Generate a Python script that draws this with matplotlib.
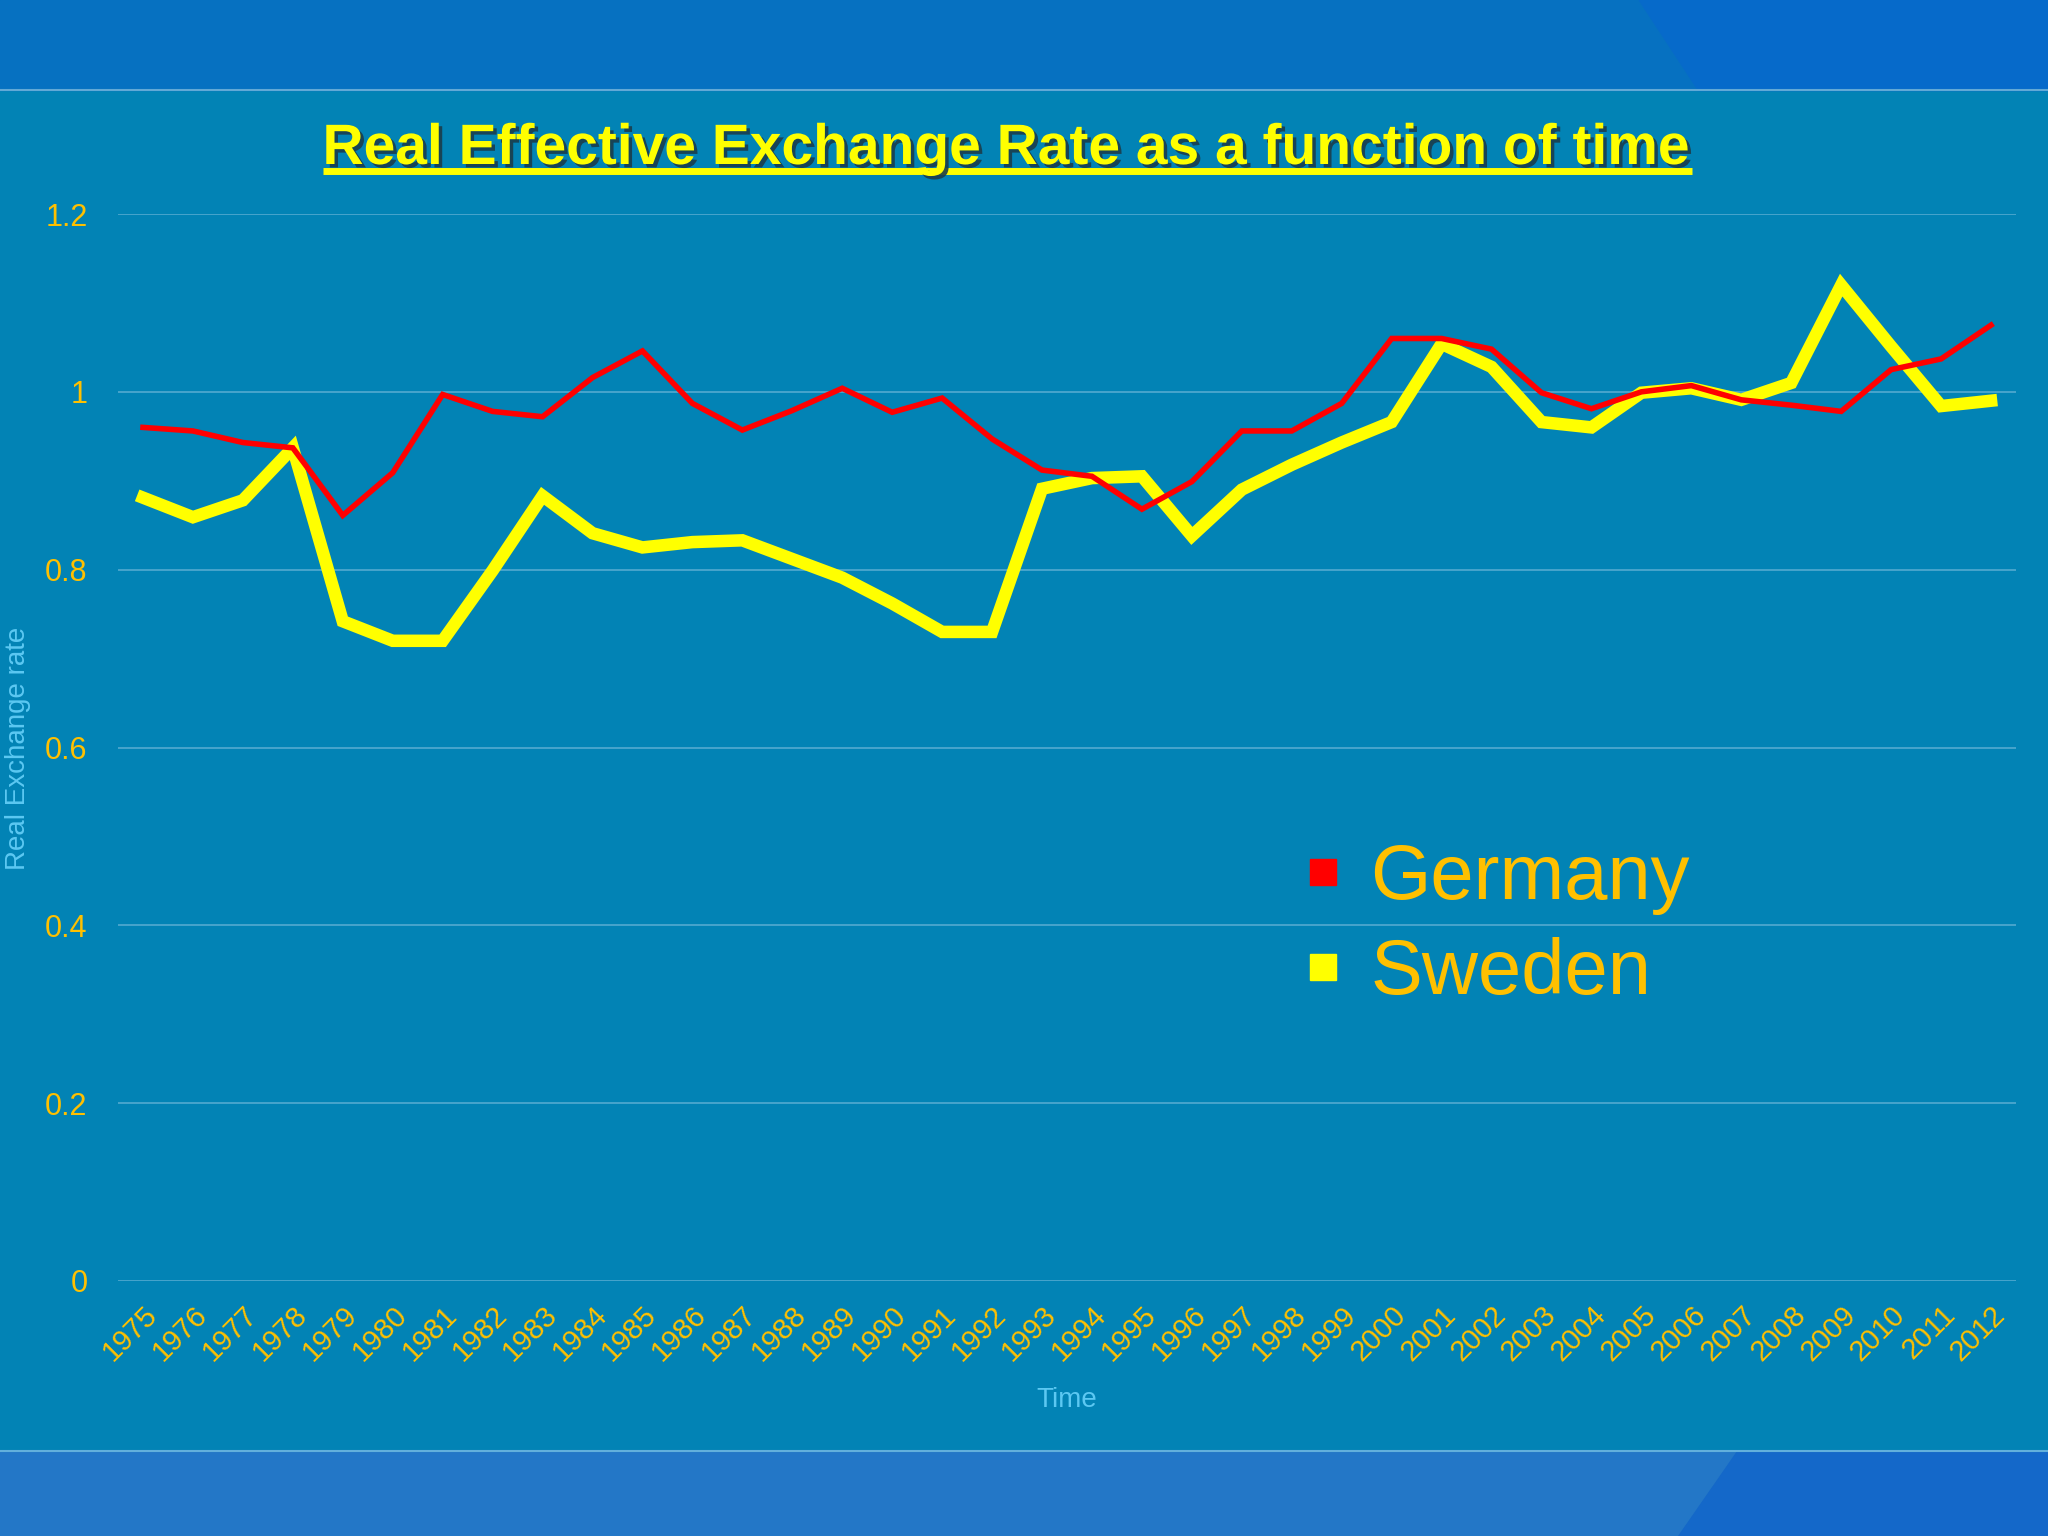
import matplotlib.pyplot as plt
import matplotlib.patheffects as pe
from matplotlib.patches import Rectangle, Polygon
from matplotlib.lines import Line2D

plt.rcParams['font.family'] = ['Liberation Sans', 'DejaVu Sans']

years = [str(y) for y in range(1975, 2013)]

germany = [0.960, 0.956, 0.943, 0.937, 0.861, 0.909, 0.997, 0.978, 0.972, 1.016,
           1.046, 0.987, 0.957, 0.979, 1.004, 0.977, 0.993, 0.947, 0.912, 0.905,
           0.868, 0.899, 0.956, 0.956, 0.987, 1.060, 1.060, 1.048, 0.999, 0.981,
           1.000, 1.007, 0.991, 0.985, 0.978, 1.025, 1.037, 1.075]

sweden = [0.881, 0.859, 0.878, 0.937, 0.742, 0.720, 0.720, 0.799, 0.883, 0.841,
          0.825, 0.831, 0.833, 0.812, 0.791, 0.762, 0.730, 0.730, 0.891, 0.903,
          0.905, 0.838, 0.890, 0.918, 0.943, 0.966, 1.054, 1.028, 0.966, 0.960,
          0.999, 1.004, 0.991, 1.010, 1.120, 1.051, 0.984, 0.990]

yticks = [0, 0.2, 0.4, 0.6, 0.8, 1.0, 1.2]
ytick_labels = ['0', '0.2', '0.4', '0.6', '0.8', '1', '1.2']

gold = '#FFC000'
light_blue = '#5CC8F2'
W, H = 2048, 1536

fig = plt.figure(figsize=(20.48, 15.36), dpi=100)
fig.patch.set_facecolor('#0283B5')

# slide decoration: top and bottom bands
def fx(x):
    return x / W

def fy(y):
    return 1 - y / H

fig.patches.append(Rectangle((0, fy(90)), 1, 90 / H, transform=fig.transFigure,
                             color='#0671C1', zorder=0))
fig.patches.append(Polygon([(fx(1639), 1), (1, 1), (1, fy(90)), (fx(1698), fy(90))],
                           transform=fig.transFigure, color='#066ACA', zorder=0))
fig.patches.append(Rectangle((0, 0), 1, 85 / H, transform=fig.transFigure,
                             color='#2377C7', zorder=0))
fig.patches.append(Polygon([(fx(1737), fy(1451)), (1, fy(1451)), (1, 0), (fx(1678), 0)],
                           transform=fig.transFigure, color='#1468C9', zorder=0))
fig.add_artist(Line2D([0, 1], [fy(90), fy(90)], transform=fig.transFigure,
                      color='#62A9D6', lw=1.5))
fig.add_artist(Line2D([0, 1], [fy(1451), fy(1451)], transform=fig.transFigure,
                      color='#62B0DC', lw=1.5))

ax = fig.add_axes([fx(118), fy(1281), fx(2016) - fx(118), (1281 - 214) / H])
ax.set_facecolor('none')

x = range(len(years))
ax.plot(x, sweden, color='#FFFF00', lw=9, solid_joinstyle='miter', zorder=3)
ax.plot(x, germany, color='#FF0000', lw=4, solid_joinstyle='miter', zorder=4)

ax.set_xlim(-0.5, len(years) - 0.5)
ax.set_ylim(0, 1.2)
ax.set_yticks(yticks)
ax.set_yticklabels(ytick_labels)
ax.set_xticks(list(x))
ax.set_xticklabels(years, rotation=45, ha='right', va='top', rotation_mode='anchor')
ax.tick_params(axis='y', length=0, pad=22, labelsize=22, labelcolor=gold)
ax.tick_params(axis='x', length=0, pad=14, labelsize=21, labelcolor=gold)
ax.grid(axis='y', color='#5AAED3', lw=1.1)
for s in ax.spines.values():
    s.set_visible(False)
ax.set_axisbelow(True)

fig.text(fx(18), fy(748), 'Real Exchange rate', rotation=90, color=light_blue,
         fontsize=20, ha='center', va='center')
fig.text(fx(1067), fy(1400), 'Time', color=light_blue, fontsize=20,
         ha='center', va='center')

# title with shadow and underline
shadow = [pe.withSimplePatchShadow(offset=(2.5, -2.5), shadow_rgbFace='#1B3D4C', alpha=0.9)]
title = fig.text(fx(1007), fy(164), 'Real Effective Exchange Rate as a function of time',
                 color='#FFFF00', fontsize=41, fontweight='bold', ha='center',
                 va='baseline', path_effects=shadow)
fig.canvas.draw()
bb = title.get_window_extent()
ul = Line2D([bb.x0 / W, bb.x1 / W], [fy(171), fy(171)], transform=fig.transFigure,
            color='#FFFF00', lw=5, solid_capstyle='butt', path_effects=shadow)
fig.add_artist(ul)

handles = [Line2D([], [], ls='none', marker='s', markersize=19, color='#FF0000'),
           Line2D([], [], ls='none', marker='s', markersize=19, color='#FFFF00')]
fig.legend(handles, ['Germany', 'Sweden'], loc='center left',
           bbox_to_anchor=(fx(1300), fy(926)), frameon=False, fontsize=56,
           labelcolor=gold, handlelength=0.6, handletextpad=0.3, borderpad=0,
           borderaxespad=0, labelspacing=0.28)

fig.savefig('out.png', dpi=100, facecolor=fig.get_facecolor())
